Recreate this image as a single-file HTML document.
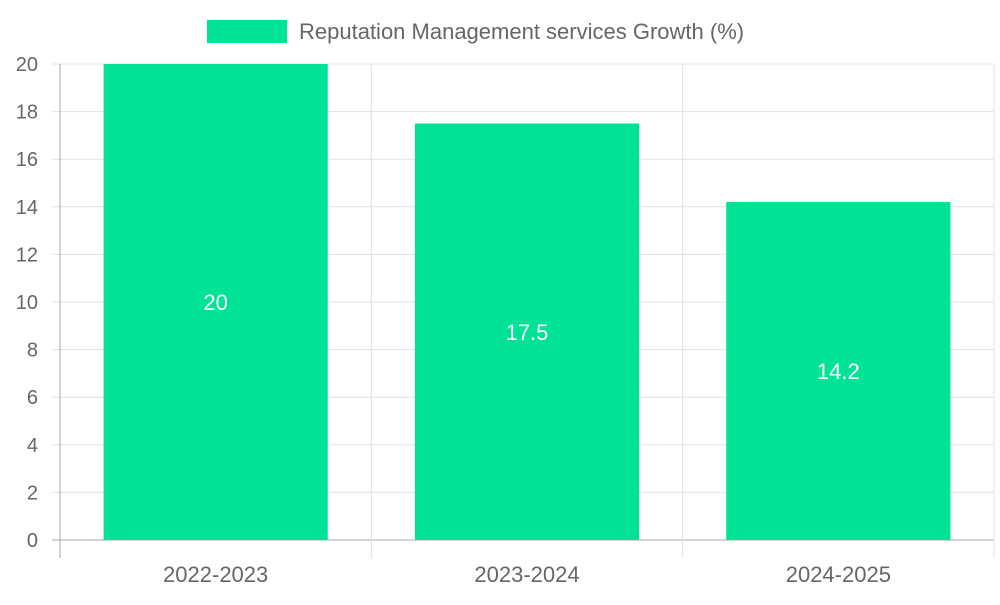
<!DOCTYPE html>
<html><head><meta charset="utf-8"><style>
body{margin:0;background:#fff;font-family:"Liberation Sans",sans-serif}
svg text{font-family:"Liberation Sans",sans-serif}
</style></head><body>
<svg width="1000" height="600" xmlns="http://www.w3.org/2000/svg">
<g id="legend">
<rect x="207" y="20" width="80" height="23" fill="#00e396"/>
<text x="299" y="39" font-size="22" fill="#666">Reputation Management services Growth (%)</text>
</g>
<g id="grid"></g><g id="bars"></g><g id="axes"></g>
</svg>
<script>
const categories = ["2022-2023","2023-2024","2024-2025"];
const values = [20, 17.5, 14.2];
const yTicks = [0,2,4,6,8,10,12,14,16,18,20];
const NS="http://www.w3.org/2000/svg";
const L=60,R=994,T=64,B=540,yMax=20;
const y=v=>B-(v/yMax)*(B-T);
const bw=(R-L)/categories.length;
const xc=i=>L+bw*(i+0.5);
function mk(tag,attrs,parent,text){const e=document.createElementNS(NS,tag);for(const k in attrs)e.setAttribute(k,attrs[k]);if(text!==undefined)e.textContent=text;document.getElementById(parent).appendChild(e);return e;}
yTicks.forEach(t=>{
 const g=mk('line',{x1:L-8,x2:R,y1:y(t),y2:y(t),stroke:t===0?'#aaa':'#e0e0e0','stroke-width':1},'grid');
 
 
 const tx=mk('text',{x:L-22,y:y(t)+7,'font-size':20,fill:'#666','text-anchor':'end'},'axes',String(t));
 
 
});
for(let i=0;i<=categories.length;i++){
 const v=mk('line',{x1:L+bw*i,x2:L+bw*i,y1:T,y2:B+18,stroke:i===0?'#aaa':'#e0e0e0','stroke-width':1},'grid');
 
 
}
categories.forEach((c,i)=>{
 const w=bw*0.72;
 const r=mk('rect',{x:xc(i)-w/2,y:y(values[i]),width:w,height:B-y(values[i]),fill:'#00e396'},'bars');
 
 
 const lb=mk('text',{x:xc(i),y:(y(values[i])+B)/2+8,'font-size':22,fill:'#fff','text-anchor':'middle'},'bars',String(values[i]));
 
 
 const xl=mk('text',{x:xc(i),y:582,'font-size':22,fill:'#666','text-anchor':'middle'},'axes',c);
 
 
});
</script>
</body></html>
